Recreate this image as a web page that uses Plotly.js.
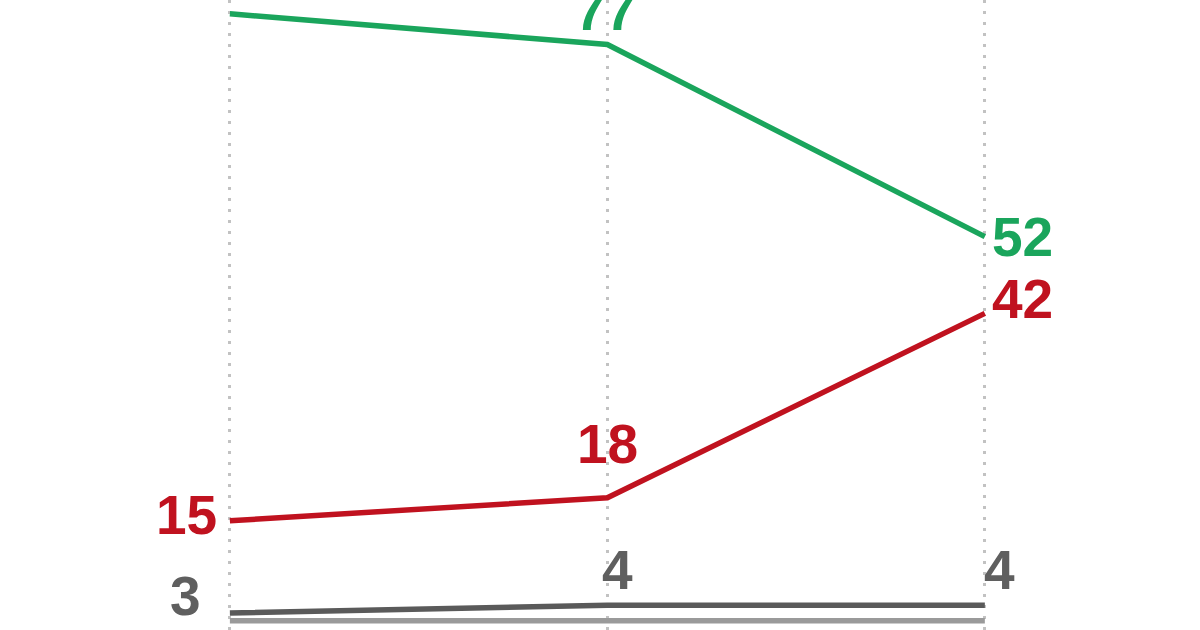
<!DOCTYPE html>
<html>
<head>
<meta charset="utf-8">
<script src="https://cdn.plot.ly/plotly-3.0.1.min.js"></script>
<style>
  html, body { margin: 0; padding: 0; background: white; }
  #chart { width: 1200px; height: 630px; }
</style>
</head>
<body>
<div id="chart"></div>
<script>
// data
const periods = [0, 1, 2];
const greenValues = [81, 77, 52];
const redValues = [15, 18, 42];
const darkGrayValues = [3, 4, 4];
const lightGrayValues = [2, 2, 2];

// label offsets in pixels (x, y) for each point; null = label sits off the picture
const greenShift = [null, [-2, 34], [38, 0]];
const redShift = [[-43, 6], [0, 54], [38, 14]];
const grayShift = [[-44, 17], [10, 35], [15, 35]];

const green = '#1aa55c';
const red = '#c0121f';
const darkGray = '#5a5a5a';
const lightGray = '#9a9a9a';

function lineTrace(values, color) {
    return {
        x: periods,
        y: values,
        type: 'scatter',
        mode: 'lines',
        line: { color: color, width: 5.5 },
        hoverinfo: 'skip'
    };
}

function labels(values, shifts, color) {
    const out = [];
    values.forEach((v, i) => {
        if (!shifts[i]) return;
        out.push({
            x: periods[i],
            y: v,
            text: String(v),
            showarrow: false,
            xanchor: 'center',
            yanchor: 'middle',
            xshift: shifts[i][0],
            yshift: shifts[i][1],
            font: { family: 'Liberation Sans, Arial, sans-serif', size: 55, color: color, weight: 'bold' }
        });
    });
    return out;
}

const data = [
    lineTrace(lightGrayValues, lightGray),
    lineTrace(darkGrayValues, darkGray),
    lineTrace(redValues, red),
    lineTrace(greenValues, green)
];

const layout = {
    width: 1200,
    height: 630,
    paper_bgcolor: 'white',
    plot_bgcolor: 'white',
    margin: { t: 0, b: 0, l: 0, r: 0 },
    showlegend: false,
    xaxis: {
        range: [-0.609, 2.570],
        tickvals: periods,
        showticklabels: false,
        showgrid: true,
        gridcolor: '#c2c2c2',
        gridwidth: 3,
        griddash: '3px,8px',
        zeroline: false,
        showline: false,
        fixedrange: true
    },
    yaxis: {
        range: [0.78, 82.8],
        showgrid: false,
        showticklabels: false,
        zeroline: false,
        showline: false,
        fixedrange: true
    },
    annotations: [].concat(
        labels(greenValues, greenShift, green),
        labels(redValues, redShift, red),
        labels(darkGrayValues, grayShift, '#5f5f5f')
    )
};

Plotly.newPlot('chart', data, layout, { displayModeBar: false, staticPlot: true });
</script>
</body>
</html>
